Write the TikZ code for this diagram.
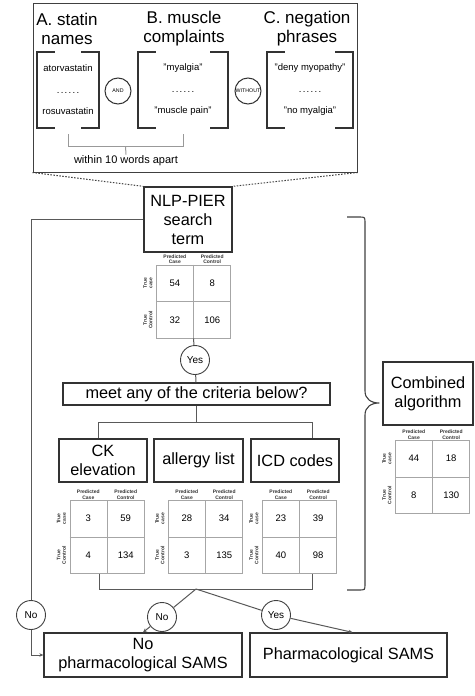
\documentclass[tikz,border=0pt]{standalone}
\usepackage{fontspec}
\setmainfont{Liberation Sans}
\usetikzlibrary{calc,arrows.meta}

\newcommand{\fs}[2]{\fontsize{#1}{#2}\selectfont}
\newcommand{\dotrow}{.\kern1.3pt.\kern1.3pt.\kern1.3pt.\kern1.3pt.\kern1.3pt.}

\tikzset{
  stepbox/.style={draw=black!80, line width=1.3pt, align=center, inner sep=0pt, font=\fs{16.3}{19}},
  grouptitle/.style={align=center, font=\fs{17}{19}},
  termlist/.style={align=center, minimum height=76, inner sep=0pt, font=\fs{9.5}{21.5}},
  sqbracket/.style={draw=black!80, line width=1.6pt},
  opcirc/.style={circle, draw=black!80, line width=1pt, minimum size=26, inner sep=0pt, font=\fs{5.3}{6}},
  answer/.style={circle, draw=black!75, line width=0.9pt, minimum size=29, inner sep=0pt, font=\fs{10}{12}},
  conn/.style={draw=black!65, line width=1pt},
  arr/.style={conn, -{Stealth[length=4pt,width=3.5pt]}},
  graybr/.style={draw=black!40, line width=1pt},
  mgrid/.style={draw=black!35, line width=0.7pt, minimum width=74, minimum height=73, inner sep=0pt},
  mline/.style={draw=black!35, line width=0.7pt},
  mnum/.style={font=\fs{9.5}{11}},
  mhead/.style={align=center, font=\bfseries\fs{5}{5.5}, inner sep=0.5pt, text=black!80},
}

% confusion matrix: name, centre, TP, FN, FP, TN
\newcommand{\confmat}[6]{%
  \node[mgrid] (#1) at (#2) {};
  \draw[mline] (#1.north) -- (#1.south) (#1.west) -- (#1.east);
  \node[mnum] (#1-a) at ($(#1.north west)!0.5!(#1.center)$) {#3};
  \node[mnum] (#1-b) at ($(#1.north east)!0.5!(#1.center)$) {#4};
  \node[mnum] (#1-c) at ($(#1.south west)!0.5!(#1.center)$) {#5};
  \node[mnum] (#1-d) at ($(#1.south east)!0.5!(#1.center)$) {#6};
  \node[mhead, anchor=south] (#1-pc) at ($(#1.north west)!0.5!(#1.north)$) {Predicted\\Case};
  \node[mhead, anchor=south] (#1-pn) at ($(#1.north east)!0.5!(#1.north)$) {Predicted\\Control};
  \node[mhead, rotate=90, anchor=south] (#1-tc) at ($(#1.north west)!0.5!(#1.west)+(-3,0)$) {True\\case};
  \node[mhead, rotate=90, anchor=south] (#1-tn) at ($(#1.south west)!0.5!(#1.west)+(-3,0)$) {True\\Control};
}

\begin{document}
\begin{tikzpicture}[x=1pt,y=-1pt]
    \useasboundingbox (0,0) rectangle (474,696);

    % search term
    \node[draw=black!75, line width=1pt, minimum width=324, minimum height=169, inner sep=0pt] (query) at (195,87.5) {};
    \node[grouptitle] (tA) at (67,29) {A. statin\\names};
    \node[grouptitle] (tB) at (184,29) {B. muscle\\complaints};
    \node[grouptitle] (tC) at (307,29) {C. negation\\phrases};
    \node[termlist, minimum width=62] (lA) at (68,90) {atorvastatin\\\dotrow\\rosuvastatin};
    \node[termlist, minimum width=90] (lB) at (183,90) {"myalgia"\\\dotrow\\"muscle pain"};
    \node[termlist, minimum width=86] (lC) at (310,90) {"deny myopathy"\\\dotrow\\"no myalgia"};
    \foreach \l in {lA,lB,lC} {
        \draw[sqbracket] ([xshift=18]\l.north west) -- (\l.north west) -- (\l.south west) -- ([xshift=18]\l.south west);
        \draw[sqbracket] ([xshift=-18]\l.north east) -- (\l.north east) -- (\l.south east) -- ([xshift=-18]\l.south east);
    }
    \node[opcirc] (and) at (118,91) {AND};
    \node[opcirc] (without) at (248,91) {WITHOUT};
    \draw[graybr] ([yshift=-6]lA.south) -- ([yshift=-18]lA.south) -- ([yshift=-18]lB.south) -- ([yshift=-6]lB.south);
    \coordinate (wmid) at ($([yshift=-18]lA.south)!0.5!([yshift=-18]lB.south)$);
    \node[font=\fs{11}{13}, inner sep=1pt] (within) at (126,161) {within 10 words apart};
    \draw[graybr] (wmid) -- (within.north);

    \node[stepbox, minimum width=88, minimum height=65] (nlp) at (188,219.5) {NLP-PIER\\search\\term};
    \draw[black!75, line width=1pt, dash pattern=on 1.5pt off 1.5pt] (query.south west) -- (nlp.north west) (query.south east) -- (nlp.north east);
    \confmat{nlpmat}{193.5,301.5}{54}{8}{32}{106}

    \node[answer] (yes1) at (195,360) {Yes};
    \draw[conn] (nlpmat.south) -- (yes1);
    \node[stepbox, minimum width=267, minimum height=22] (meet) at (196.5,394) {meet any of the criteria below?};
    \draw[conn] (yes1) -- (meet);

    % criteria
    \node[stepbox, minimum width=88, minimum height=43] (ck) at (103,460.5) {CK\\elevation};
    \node[stepbox, minimum width=89, minimum height=43] (allergy) at (198.5,460.5) {allergy list};
    \node[stepbox, minimum width=88, minimum height=43] (icd) at (295,460.5) {ICD codes};
    \draw[conn] (meet.south) -- ++(0,17) coordinate (split);
    \draw[conn] ([xshift=-5]ck.north) |- (split) -| ([xshift=17]icd.north);
    \confmat{ckmat}{107,537}{3}{59}{4}{134}
    \confmat{algmat}{205.5,537}{28}{34}{3}{135}
    \confmat{icdmat}{299.5,537}{23}{39}{40}{98}
    \draw[conn] ([xshift=-8]ckmat.south) |- ([xshift=12.5,yshift=-16]icdmat.south) -- ([xshift=12.5]icdmat.south);
    \coordinate (merge) at (196,589);

    % outcomes
    \node[answer] (no1) at (31,615) {No};
    \node[answer] (no2) at (162,617) {No};
    \node[answer] (yes2) at (276,615) {Yes};
    \node[stepbox, minimum width=198, minimum height=44] (nosams) at (143,655) {No\\pharmacological SAMS};
    \node[stepbox, minimum width=197, minimum height=44] (sams) at (348.5,655) {Pharmacological SAMS};
    \draw[conn] (nlp.west) -| (no1);
    \draw[arr] (no1) |- (nosams.west);
    \draw[conn] (merge) -- (no2);
    \draw[conn] (merge) -- (yes2);
    \draw[arr] (no2) -- (nosams.north);
    \draw[arr] (yes2) -- ([xshift=4]sams.north);

    % combined
    \node[stepbox, minimum width=90, minimum height=63] (comb) at (428,393.5) {Combined\\algorithm};
    \coordinate (brtip) at ([xshift=-3,yshift=-9.5]comb.west);
    \draw[black!75, line width=1.1pt] (347,217) -- (359,217) .. controls (365,217) .. (365,223) -- (365,391)
        .. controls (365,399) and (371,403) .. (brtip) .. controls (371,403) and (365,407) .. (365,415)
        -- (365,584) .. controls (365,590) .. (359,590) -- (347,590);
    \confmat{combmat}{432.5,477}{44}{18}{8}{130}
\end{tikzpicture}
\end{document}
